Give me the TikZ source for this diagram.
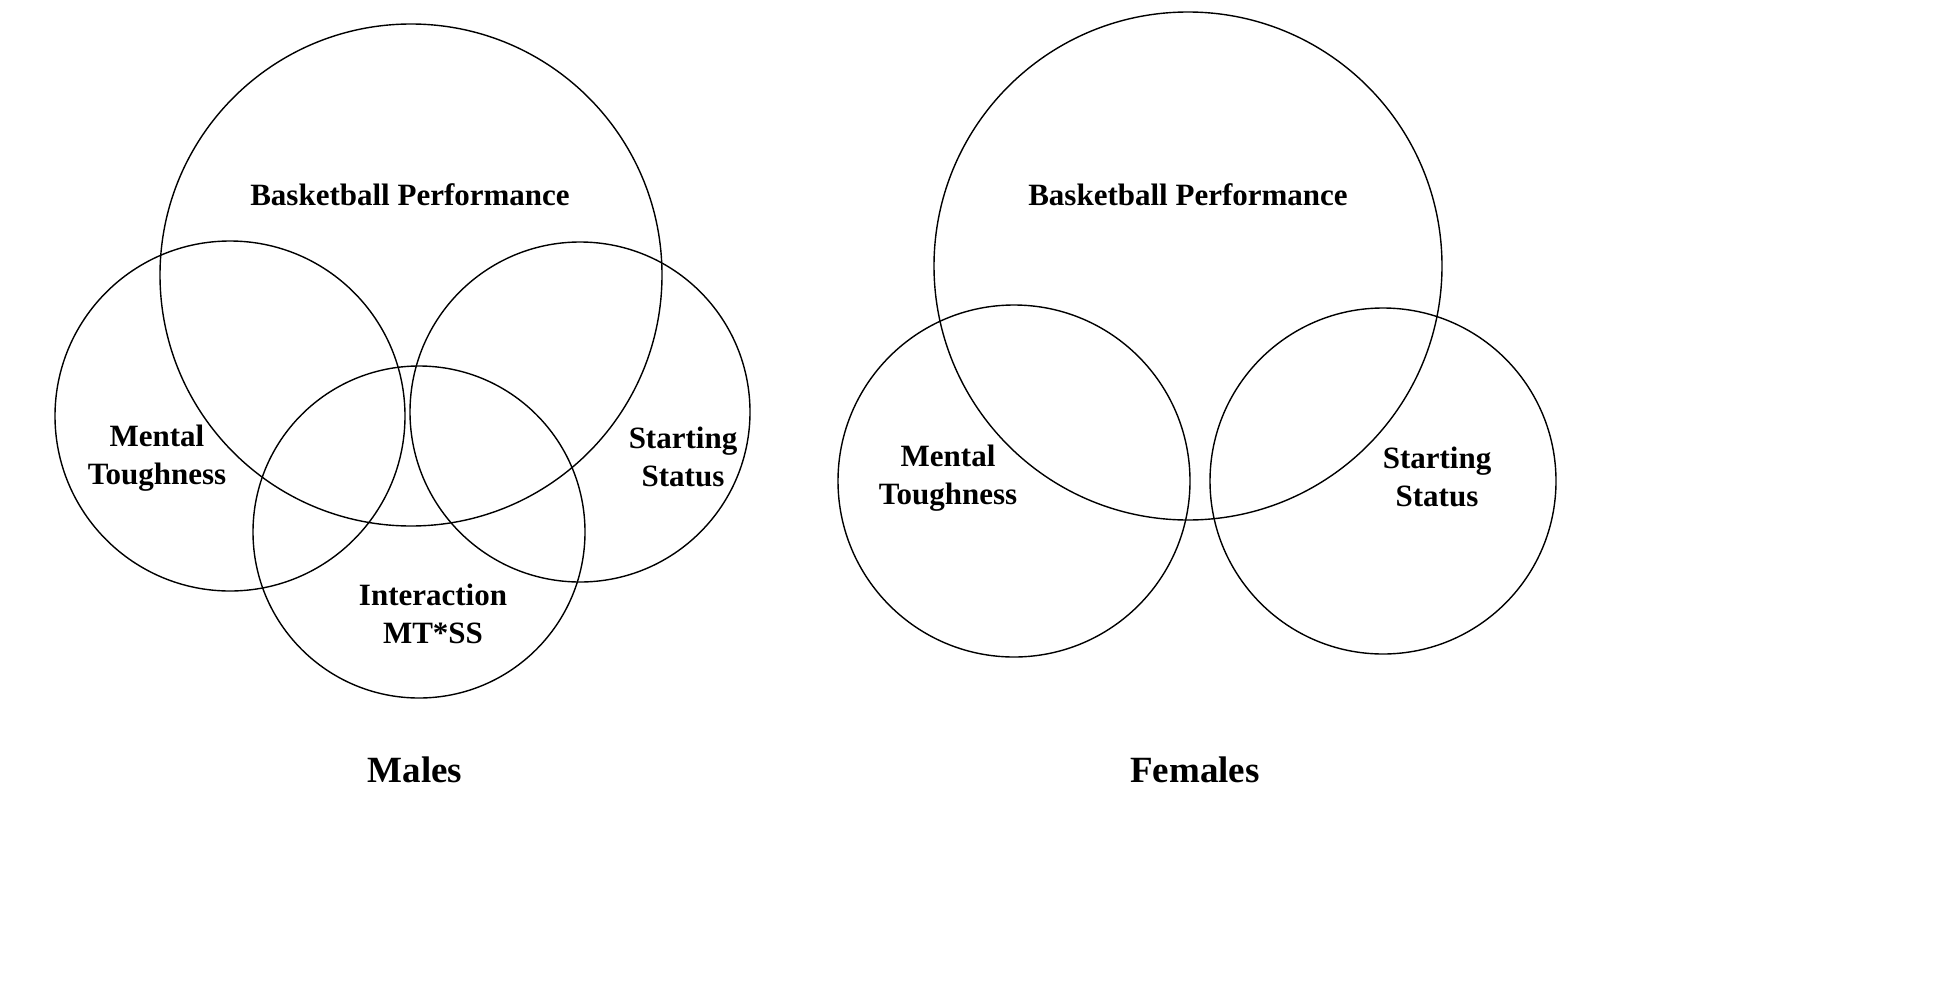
\documentclass[tikz,border=0pt]{standalone}
\usepackage{fontspec}
\setmainfont{Liberation Serif}
\begin{document}
\begin{tikzpicture}[x=1pt,y=-1pt,
  lbl/.style={font=\bfseries\fontsize{31}{38}\selectfont,align=center},
  ttl/.style={font=\bfseries\fontsize{37}{44}\selectfont}]
\useasboundingbox (0,0) rectangle (1957,993);
% Males
\draw[line width=1.4pt] (411,275) circle (251);
\draw[line width=1.4pt] (230,416) circle (175);
\draw[line width=1.4pt] (580,412) circle (170);
\draw[line width=1.4pt] (419,532) circle (166);
\node[lbl] (mbp) at (410,195) {Basketball Performance};
\node[lbl] (mmt) at (157,458) {Mental\\Toughness};
\node[lbl] (mss) at (683,457) {Starting\\Status};
\node[lbl] (mi) at (433,614) {Interaction\\MT*SS};
\node[ttl] (males) at (415,770) {Males};
% Females
\draw[line width=1.4pt] (1188,266) circle (254);
\draw[line width=1.4pt] (1014,481) circle (176);
\draw[line width=1.4pt] (1383,481) circle (173);
\node[lbl] (fbp) at (1188,195) {Basketball Performance};
\node[lbl] (fmt) at (948,478) {Mental\\Toughness};
\node[lbl] (fss) at (1437,477) {Starting\\Status};
\node[ttl] (females) at (1195,770) {Females};
\end{tikzpicture}
\end{document}
